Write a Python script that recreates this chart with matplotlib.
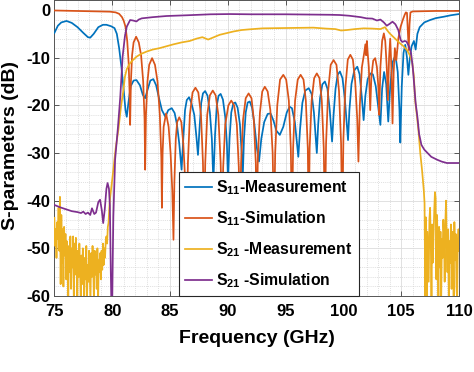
import matplotlib
matplotlib.use("Agg")
import matplotlib.pyplot as plt
from matplotlib.ticker import MultipleLocator

# ---------------- data ----------------
# S11 measurement (blue)
s11_meas_f = [75.0, 75.3, 75.6, 76.05, 76.5, 77.0, 77.5, 77.9, 78.1, 78.4, 78.8, 79.2, 79.5, 79.9,
              80.2, 80.4, 80.6, 80.8, 81.0, 81.15, 81.26, 81.4, 81.6, 81.85, 82.1, 82.4, 82.65,
              82.85, 83.05, 83.3, 83.56, 83.8, 84.05, 84.3, 84.6, 84.85, 85.15, 85.4, 85.6, 85.8,
              86.0, 86.15, 86.3, 86.45, 86.65, 86.85, 87.1, 87.3, 87.42, 87.55, 87.7, 87.85, 88.04,
              88.25, 88.45, 88.62, 88.75, 88.9, 89.05, 89.2, 89.38, 89.58, 89.78, 89.92, 90.02,
              90.15, 90.3, 90.48, 90.65, 90.85, 91.05, 91.2, 91.28, 91.4, 91.55, 91.72, 91.9, 92.1,
              92.3, 92.52, 92.7, 92.9, 93.15, 93.45, 93.7, 93.95, 94.2, 94.5, 94.8, 95.1, 95.35,
              95.55, 95.8, 95.98, 96.1, 96.25, 96.45, 96.7, 97.0, 97.25, 97.45, 97.6, 97.7, 97.82,
              97.98, 98.18, 98.4, 98.62, 98.82, 98.95, 99.02, 99.15, 99.32, 99.5, 99.7, 99.92,
              100.12, 100.3, 100.4, 100.52, 100.7, 100.95, 101.2, 101.4, 101.6, 101.75, 101.9,
              102.1, 102.35, 102.55, 102.8, 103.0, 103.2, 103.35, 103.52, 103.7, 103.88, 104.05,
              104.25, 104.5, 104.7, 104.85, 104.92, 105.05, 105.2, 105.35, 105.5, 105.62, 105.75,
              105.9, 106.1, 106.25, 106.4, 106.6, 107.0, 107.5, 108.0, 108.7, 109.3, 110.0]
s11_meas_db = [-4.8, -3.3, -2.6, -2.3, -2.7, -3.6, -4.8, -5.7, -5.8, -5.0, -3.6, -3.1, -3.1, -3.4,
               -3.8, -5.0, -8.0, -12.0, -17.0, -21.0, -22.4, -19.5, -16.0, -14.8, -14.7, -15.8, -17.8,
               -18.5, -16.8, -14.8, -14.5, -15.8, -18.5, -21.0, -22.4, -21.0, -20.6, -21.6, -24.0, -28.0,
               -33.5, -27.0, -21.0, -18.9, -18.3, -19.5, -22.0, -27.0, -30.4, -25.0, -19.5, -17.5, -17.0,
               -18.0, -21.5, -27.0, -36.0, -26.0, -20.0, -18.0, -17.6, -18.8, -22.5, -28.0, -36.0,
               -27.0, -21.5, -19.6, -19.4, -20.5, -24.0, -30.0, -36.0, -27.0, -21.5, -19.4, -19.2, -20.5,
               -24.0, -29.0, -31.8, -27.0, -23.5, -21.8, -21.7, -23.2, -25.3, -26.2, -24.5, -21.5, -20.3,
               -20.6, -23.5, -28.0, -30.8, -25.0, -19.5, -16.9, -16.4, -17.6, -21.5, -26.5, -30.0, -24.0,
               -18.5, -15.6, -15.0, -16.5, -21.0, -25.5, -27.6, -22.0, -16.5, -13.6, -12.9, -14.3,
               -18.5, -24.0, -27.3, -21.0, -15.5, -12.6, -11.9, -13.5, -18.5, -23.1, -18.0,
               -14.5, -13.3, -13.5, -16.0, -20.0, -24.1, -16.5, -13.0, -15.5, -23.4, -16.0,
               -11.0, -9.5, -13.0, -21.0, -27.8, -16.0, -9.0, -7.3, -10.0, -13.6, -10.0,
               -7.6, -6.5, -8.3, -5.0, -3.6, -2.6, -2.1, -1.7, -1.4, -1.1, -0.85]

# S11 simulation (orange)
s11_sim_f = [75.0, 76.0, 77.0, 78.0, 79.0, 79.8, 80.3, 80.6, 80.85, 81.0, 81.15, 81.3, 81.42, 81.5, 81.55,
             81.62, 81.72, 81.85, 82.07, 82.3, 82.5, 82.68, 82.8, 82.85,
             82.92, 83.05, 83.2, 83.45, 83.7, 83.92, 84.12, 84.25, 84.3,
             84.36, 84.45, 84.66, 84.88, 85.05, 85.2, 85.3,
             85.38, 85.5, 85.62, 85.8, 85.98, 86.15, 86.32, 86.45,
             86.55, 86.72, 86.95, 87.2, 87.45, 87.68, 87.85, 87.95,
             88.05, 88.22, 88.45, 88.7, 88.95, 89.18, 89.38, 89.5,
             89.6, 89.78, 90.05, 90.3, 90.55, 90.78, 90.95, 91.05,
             91.15, 91.32, 91.55, 91.8, 92.05, 92.25, 92.42, 92.5,
             92.6, 92.78, 92.98, 93.2, 93.45, 93.68, 93.88, 94.0,
             94.1, 94.28, 94.52, 94.8, 95.05, 95.28, 95.45, 95.55,
             95.65, 95.82, 96.05, 96.3, 96.55, 96.75, 96.92, 97.0,
             97.08, 97.25, 97.47, 97.7, 97.93, 98.13, 98.3, 98.4,
             98.5, 98.68, 98.9, 99.15, 99.4, 99.62, 99.8, 99.9,
             100.0, 100.18, 100.38, 100.6, 100.82, 101.02, 101.2, 101.3,
             101.42, 101.6, 101.8, 101.9, 101.97, 102.03, 102.1, 102.2, 102.32,
             102.42, 102.58, 102.75, 102.9, 103.02, 103.1,
             103.2, 103.35, 103.5, 103.62, 103.75, 103.85, 103.95, 104.05, 104.15, 104.25,
             104.35, 104.45, 104.58, 104.75, 104.95, 105.15, 105.3, 105.4, 105.5, 105.58,
             105.65, 105.72, 105.8, 106.0, 107.0, 108.0, 109.0, 110.0]
s11_sim_db = [-0.1, -0.15, -0.2, -0.25, -0.3, -0.35, -0.5, -0.8, -1.5, -2.3, -3.5, -6.5, -11.0, -17.0, -24.1,
              -15.0, -9.5, -6.8, -5.6, -6.8, -9.5, -15.0, -23.0, -33.5,
              -22.0, -15.0, -11.5, -10.1, -11.5, -15.0, -22.0, -31.0, -41.5,
              -30.0, -24.5, -21.7, -24.5, -30.0, -38.0, -48.2,
              -36.0, -27.0, -23.5, -22.5, -23.5, -28.0, -36.0, -45.0,
              -32.0, -22.0, -17.3, -16.3, -17.3, -22.0, -32.0, -45.0,
              -32.0, -22.0, -17.9, -16.9, -17.9, -22.0, -32.0, -45.0,
              -33.0, -24.0, -20.0, -19.0, -20.0, -24.0, -33.0, -45.0,
              -32.0, -23.0, -18.5, -17.5, -18.5, -23.0, -32.0, -45.0,
              -31.0, -21.5, -17.1, -16.1, -17.1, -21.0, -30.0, -45.0,
              -30.0, -20.0, -14.6, -13.6, -14.6, -19.0, -29.0, -45.0,
              -29.0, -19.0, -14.6, -13.6, -14.6, -19.0, -29.0, -45.0,
              -29.0, -19.0, -14.3, -13.3, -14.3, -19.0, -29.0, -45.0,
              -28.0, -17.0, -11.5, -10.5, -11.5, -17.0, -28.0, -45.0,
              -27.0, -16.0, -10.4, -9.4, -10.4, -15.0, -23.0, -31.8,
              -20.0, -12.0, -9.0, -7.2, -9.5, -6.5, -9.0, -12.0, -21.0,
              -14.0, -10.6, -10.1, -12.0, -16.0, -22.0,
              -12.0, -6.5, -4.9, -6.5, -12.0, -18.9, -10.0, -6.0, -12.0, -23.8,
              -13.0, -8.0, -10.5, -6.0, -3.5, -2.0, -1.0, -0.5, -0.6, -5.0,
              -8.4, -3.0, -0.5, -0.3, -0.25, -0.2, -0.2, -0.2]

# S21 measurement (yellow): low-band noise, pass band, high-band noise
s21_meas_low_f = [75.00, 75.06, 75.12, 75.18, 75.24, 75.30, 75.36, 75.42, 75.48, 75.54, 75.60, 75.66,
                  75.72, 75.78, 75.84, 75.90, 75.96, 76.02, 76.08, 76.14, 76.20, 76.26, 76.32, 76.38,
                  76.44, 76.50, 76.56, 76.62, 76.68, 76.74, 76.80, 76.86, 76.92, 76.98, 77.04, 77.10,
                  77.16, 77.22, 77.28, 77.34, 77.40, 77.46, 77.52, 77.58, 77.64, 77.70, 77.76, 77.82,
                  77.88, 77.94, 78.00, 78.06, 78.12, 78.18, 78.24, 78.30, 78.36, 78.42, 78.48, 78.54,
                  78.60, 78.66, 78.72, 78.78, 78.84, 78.90, 78.96, 79.02, 79.08, 79.14, 79.20, 79.26,
                  79.32, 79.38, 79.44, 79.50, 79.56, 79.62, 79.68, 79.74]
s21_meas_low_db = [-43.6, -49.5, -46.0, -52.0, -44.5, -48.0, -41.5, -50.5, -39.2, -57.5, -43.0, -53.0,
                   -46.0, -58.0, -45.5, -51.5, -47.0, -56.5, -48.5, -53.0, -61.0, -49.5, -55.0, -47.5,
                   -58.5, -50.0, -54.0, -47.5, -61.0, -49.0, -55.5, -47.8, -53.5, -61.0, -50.5, -56.0,
                   -49.0, -54.5, -61.0, -51.5, -57.5, -50.0, -55.0, -61.0, -52.0, -56.5, -49.5, -61.0,
                   -53.5, -57.0, -50.5, -55.5, -61.0, -51.0, -56.0, -49.5, -54.0, -61.0, -50.5, -55.5,
                   -51.5, -58.5, -50.0, -61.0, -52.5, -55.0, -51.0, -56.5, -50.5, -54.5, -49.0, -53.5,
                   -50.0, -52.0, -48.5, -47.5, -49.0, -45.5, -44.7, -42.0]
s21_meas_mid_f = [79.8, 80.1, 80.3, 80.53, 80.75, 80.97, 81.1, 81.26, 81.5, 81.75, 82.1, 82.5, 83.0,
                  83.5, 84.1, 84.7, 85.3, 86.0, 86.7, 87.3, 87.8, 88.3, 88.8, 89.3, 90.0, 90.5, 91.2,
                  91.9, 93.0, 94.5, 96.0, 97.4, 98.5, 99.3, 99.8, 100.3, 101.0, 101.75, 102.5, 103.2,
                  103.6, 103.8, 104.0, 104.3, 104.6, 104.9, 105.2, 105.5, 105.75, 105.95, 106.1, 106.2,
                  106.35, 106.5, 106.65, 106.8]
s21_meas_mid_db = [-39.8, -33.5, -29.0, -25.2, -20.5, -16.8, -14.0, -12.4, -11.3, -10.6, -9.8, -9.2, -8.7,
                   -8.3, -8.0, -7.6, -7.2, -6.8, -6.5, -6.0, -5.7, -6.2, -5.7, -5.2, -4.8, -4.5, -4.2,
                   -4.05, -3.85, -3.8, -3.75, -3.7, -3.9, -4.0, -4.3, -4.2, -4.0, -3.85, -3.9, -4.0,
                   -3.6, -4.3, -4.9, -5.6, -6.3, -7.0, -7.6, -8.4, -9.5, -11.0, -14.0, -18.9,
                   -22.0, -25.5, -30.0, -33.5]
s21_meas_high_f = [106.95, 107.02, 107.08, 107.14, 107.20, 107.26, 107.32, 107.38, 107.44, 107.50,
                   107.56, 107.62, 107.68, 107.74, 107.80, 107.86, 107.92, 107.98, 108.04, 108.10,
                   108.16, 108.22, 108.28, 108.34, 108.40, 108.46, 108.52, 108.58, 108.64, 108.70,
                   108.76, 108.82, 108.88, 108.94, 109.00, 109.06, 109.12, 109.18, 109.24, 109.30,
                   109.36, 109.42, 109.48, 109.54, 109.60, 109.66, 109.72, 109.78, 109.84, 109.90,
                   109.96, 110.00]
s21_meas_high_db = [-37.7, -40.5, -60.5, -43.5, -61.0, -46.5, -52.0, -57.0, -44.0, -41.5,
                    -49.0, -61.0, -45.0, -53.0, -47.0, -42.0, -38.2, -39.5, -56.5, -43.0,
                    -50.0, -61.0, -45.5, -54.0, -46.5, -61.0, -48.0, -52.0, -44.0, -47.0,
                    -57.0, -44.5, -40.0, -49.0, -55.0, -46.0, -61.0, -48.5, -53.0, -45.0,
                    -58.5, -46.5, -51.0, -61.0, -44.5, -52.5, -47.0, -58.0, -61.0, -48.5,
                    -46.0, -50.5]

# S21 simulation (purple)
s21_sim_f = [75.0, 75.5, 76.0, 76.5, 77.0, 77.3, 77.5, 77.7, 77.9, 78.1, 78.25, 78.45, 78.6, 78.8,
             78.95, 79.1, 79.22, 79.35, 79.5, 79.6, 79.72, 79.8, 79.88, 79.93, 80.0, 80.05, 80.1,
             80.25, 80.4, 80.5, 80.7, 80.9, 81.1, 81.26, 81.55, 81.8, 82.1, 82.3, 82.56, 83.5, 84.7,
             86.5, 88.5, 90.2, 92.0, 95.0, 98.9, 99.7, 100.5, 101.5, 102.0, 102.5, 102.9, 103.2,
             103.5, 103.75, 104.0, 104.25, 104.5, 104.75, 104.95, 105.1, 105.3, 105.45, 105.65,
             105.85, 106.0, 106.1, 106.25, 106.4, 106.55, 106.75, 107.0, 107.2, 107.6, 108.1,
             108.5, 108.95, 109.5, 110.0]
s21_sim_db = [-40.9, -41.4, -41.8, -42.2, -42.4, -42.6, -42.3, -42.8, -42.5, -43.0, -41.6, -42.8, -42.5, -40.3,
              -39.8, -42.0, -44.7, -42.0, -37.5, -36.3, -37.5, -41.0, -55.0, -62.0, -62.0, -52.0, -43.3,
              -31.4, -27.3, -24.5, -18.2, -9.8, -5.5, -3.5, -2.1, -2.2, -2.4, -2.0, -1.75, -1.5, -1.26,
              -1.1, -0.9, -0.85, -0.9, -0.9, -1.0, -1.05, -1.2, -1.5, -1.75, -1.8, -2.2, -2.0,
              -2.6, -3.3, -2.9, -2.45, -3.0, -4.2, -6.3, -6.7, -6.5, -6.6, -7.5,
              -9.0, -12.0, -15.0, -19.5, -22.4, -26.0, -28.3, -29.3, -29.8, -30.8, -31.4,
              -31.8, -32.1, -32.1, -32.1]

labels = [r'$\mathrm{S}_{11}$-Measurement', r'$\mathrm{S}_{11}$-Simulation',
          r'$\mathrm{S}_{21}$ -Measurement', r'$\mathrm{S}_{21}$ -Simulation']
colors = ['#0072BD', '#D95319', '#EDB120', '#7E2F8E']
x_ticks = [75, 80, 85, 90, 95, 100, 105, 110]
y_ticks = [0, -10, -20, -30, -40, -50, -60]

# ---------------- style ----------------
plt.rcParams['font.family'] = ['Liberation Sans', 'DejaVu Sans']
plt.rcParams['font.weight'] = 'bold'
plt.rcParams['axes.unicode_minus'] = False
plt.rcParams['mathtext.fontset'] = 'custom'
plt.rcParams['mathtext.rm'] = 'Liberation Sans:bold'
plt.rcParams['mathtext.it'] = 'Liberation Sans:bold:italic'
plt.rcParams['mathtext.bf'] = 'Liberation Sans:bold'

W, H = 474, 372
fig = plt.figure(figsize=(W / 100, H / 100), dpi=100)
ax_l, ax_r, ax_t, ax_b = 54.4, 459.0, 0.0, 296.0
ax = fig.add_axes([ax_l / W, 1 - ax_b / H, (ax_r - ax_l) / W, (ax_b - ax_t) / H])

lw = 1.25
ax.plot(s11_meas_f, s11_meas_db, color=colors[0], lw=lw, label=labels[0], zorder=3)
ax.plot(s11_sim_f, s11_sim_db, color=colors[1], lw=lw, label=labels[1], zorder=3)
ax.plot(s21_meas_low_f + s21_meas_mid_f + s21_meas_high_f,
        s21_meas_low_db + s21_meas_mid_db + s21_meas_high_db,
        color=colors[2], lw=lw, label=labels[2], zorder=3)
ax.plot(s21_sim_f, s21_sim_db, color=colors[3], lw=lw, label=labels[3], zorder=3)

ax.set_xlim(75, 110)
ax.set_ylim(-60, 2.1)
ax.set_xticks(x_ticks)
ax.set_yticks(y_ticks)
ax.set_xticklabels([str(v) for v in x_ticks])
ax.set_yticklabels([str(v) for v in y_ticks])
ax.xaxis.set_minor_locator(MultipleLocator(1))
ax.yaxis.set_minor_locator(MultipleLocator(2))

ax.grid(which='major', color='#dcdcdc', lw=0.6, ls='-', zorder=0)
ax.grid(which='minor', color='#cfcfcf', lw=0.55, ls=(0, (1, 1.5)), zorder=0)
ax.set_axisbelow(True)

ax.tick_params(which='major', direction='in', length=3.5, width=0.6, color='#404040',
               top=True, right=True, labelsize=12)
ax.tick_params(which='minor', length=0, top=True, right=True)
ax.tick_params(axis='x', pad=5.5)
ax.tick_params(axis='y', pad=3)
for lab in ax.get_xticklabels() + ax.get_yticklabels():
    lab.set_fontweight('bold')
for sp in ax.spines.values():
    sp.set_color('#555555')
    sp.set_linewidth(0.7)

fig.text((ax_l + ax_r) / 2 / W, 1 - 343 / H, 'Frequency (GHz)', ha='center', va='baseline',
         fontsize=14, fontweight='bold')
fig.text(11 / W, 1 - 145 / H, 'S-parameters (dB)', ha='center', va='center', rotation=90,
         fontsize=14, fontweight='bold')

leg_x0 = (179 - ax_l) / (ax_r - ax_l)
leg_y1 = (ax_b - 172) / (ax_b - ax_t)
leg = ax.legend(loc='upper left', bbox_to_anchor=(leg_x0, leg_y1), borderaxespad=0,
                fontsize=11.3, handlelength=1.7, handletextpad=0.25, borderpad=0.4,
                labelspacing=0.78, fancybox=False, framealpha=1, edgecolor='#262626')
leg.get_frame().set_linewidth(0.8)
for t in leg.get_texts():
    t.set_fontweight('bold')

fig.savefig('out.png', dpi=100)
